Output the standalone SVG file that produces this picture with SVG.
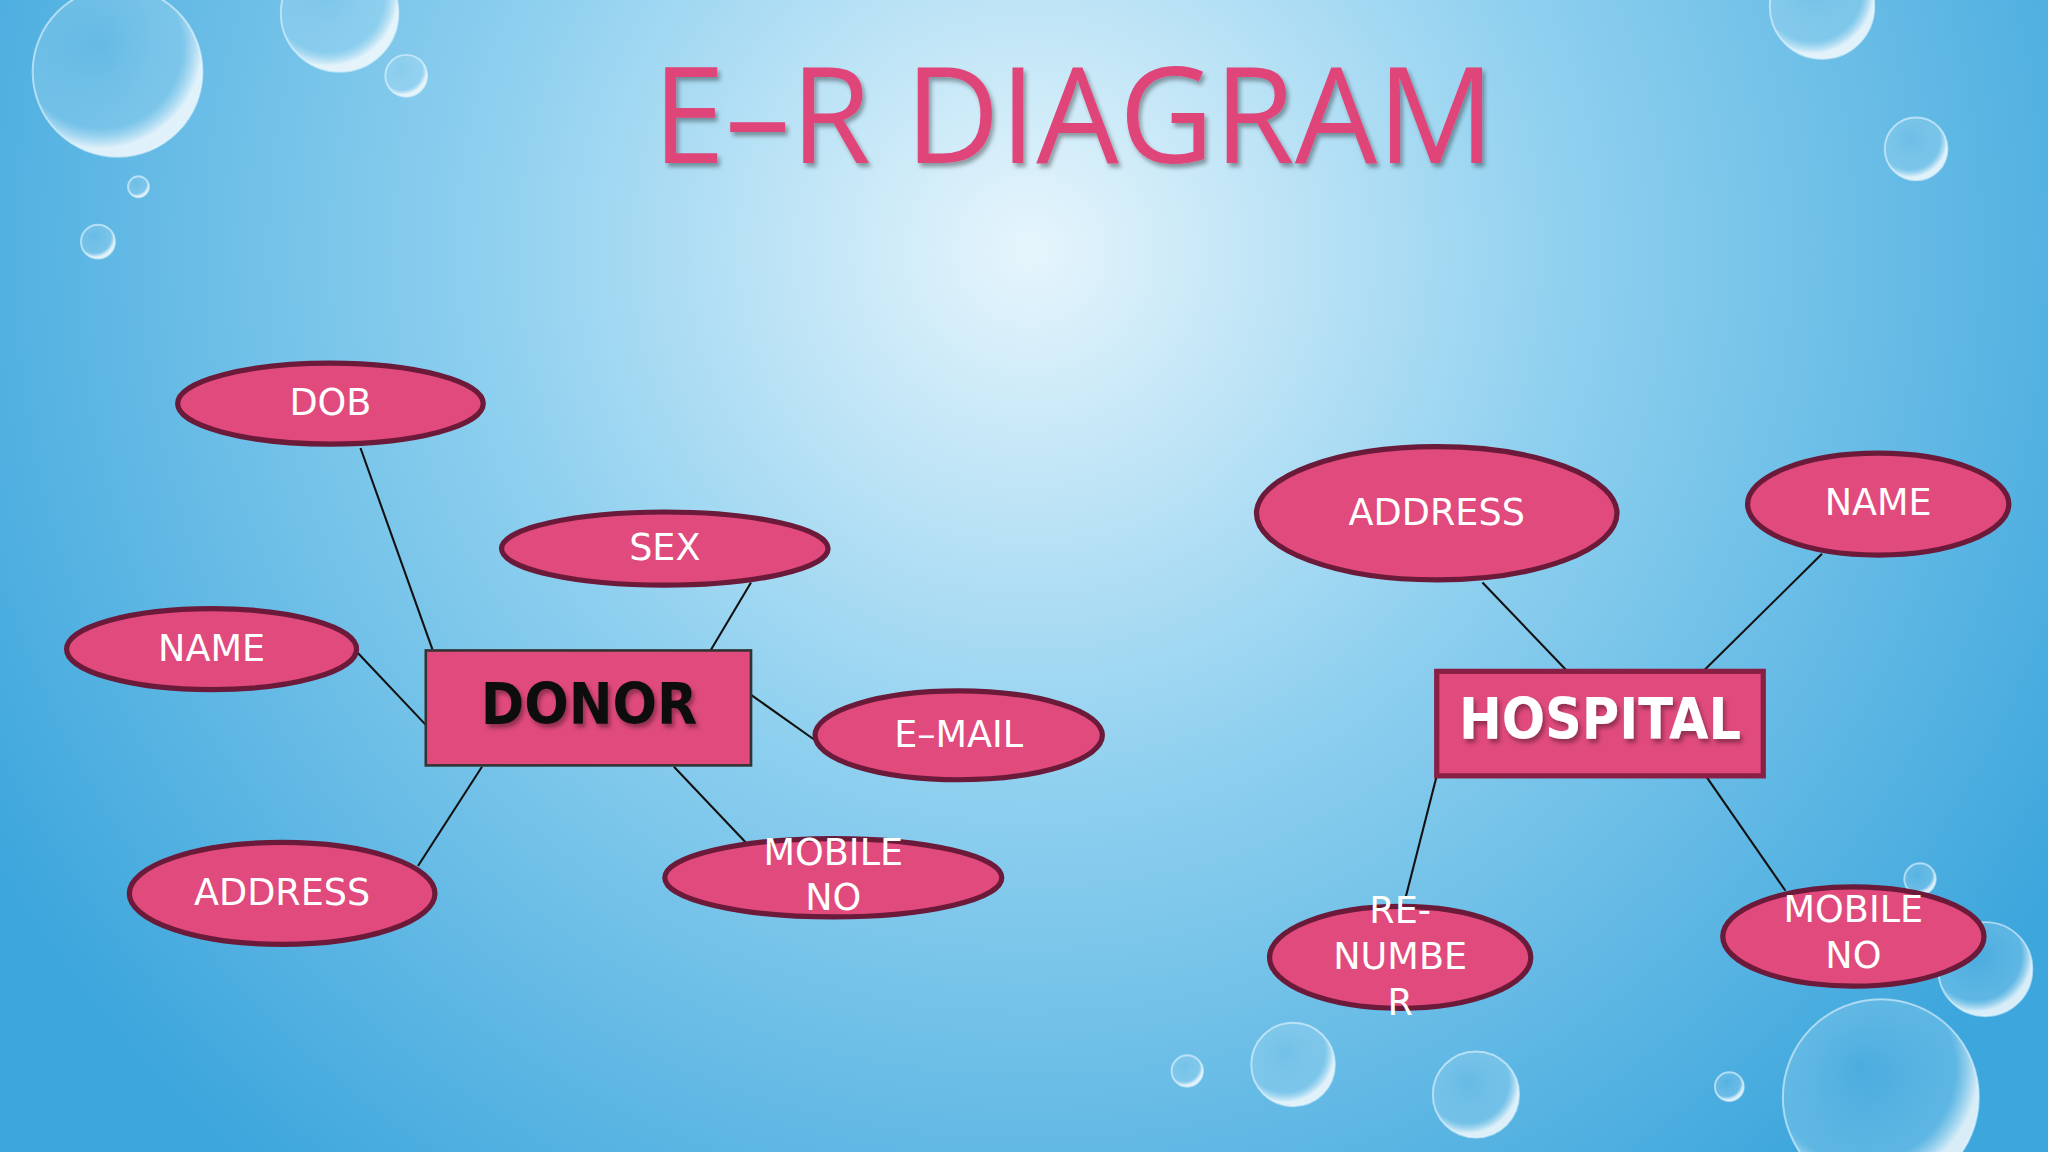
<svg xmlns="http://www.w3.org/2000/svg" width="2048" height="1152" viewBox="0 0 2048 1152">
<defs>
<radialGradient id="bg" cx="1030" cy="250" r="1200" gradientUnits="userSpaceOnUse">
<stop offset="0" stop-color="#e6f5fc"/><stop offset="0.45" stop-color="#8fd0ef"/><stop offset="1" stop-color="#3da6dc"/>
</radialGradient>
<radialGradient id="bub" cx="0.4" cy="0.35" r="0.6">
<stop offset="0" stop-color="#ffffff" stop-opacity="0.05"/><stop offset="0.8" stop-color="#bfe6f8" stop-opacity="0.25"/><stop offset="1" stop-color="#ffffff" stop-opacity="0.8"/>
</radialGradient>
<filter id="sh"><feDropShadow dx="2" dy="3" stdDeviation="1.5" flood-color="#000" flood-opacity="0.35"/></filter>
<style>
.e{fill:#e04a7c;stroke:#6b1a3a;stroke-width:4}
.r{fill:#e04a7c;stroke:#333;stroke-width:2}
.rh{fill:#e04a7c;stroke:#8a1f45;stroke-width:4}
.t{font-family:"DejaVu Sans",sans-serif;font-size:28px;fill:#fff;text-anchor:middle}
.l{stroke:#111;stroke-width:1.6;fill:none}
.b{fill:url(#bub);stroke:#e8f7ff;stroke-opacity:0.6;stroke-width:1.5}
</style>
</defs>
<rect width="2048" height="1152" fill="url(#bg)"/>
<g transform="scale(1.30612)">
<g id="bubbles">
<circle class="b" cx="90" cy="55" r="65"/><circle class="b" cx="260" cy="10" r="45"/><circle class="b" cx="311" cy="58" r="16"/>
<circle class="b" cx="106" cy="143" r="8"/><circle class="b" cx="75" cy="185" r="13"/><circle class="b" cx="1395" cy="5" r="40"/>
<circle class="b" cx="1467" cy="114" r="24"/><circle class="b" cx="990" cy="815" r="32"/><circle class="b" cx="1130" cy="838" r="33"/>
<circle class="b" cx="909" cy="820" r="12"/><circle class="b" cx="1324" cy="832" r="11"/><circle class="b" cx="1440" cy="840" r="75"/>
<circle class="b" cx="1520" cy="742" r="36"/><circle class="b" cx="1470" cy="673" r="12"/>
</g>
<text x="822" y="125" font-family="'Open Sans','DejaVu Sans',sans-serif" font-weight="500" font-size="102" fill="#e0457a" text-anchor="middle" textLength="645" lengthAdjust="spacingAndGlyphs" filter="url(#sh)">E–R DIAGRAM</text>
<g id="connectors">
<line class="l" x1="276" y1="343" x2="331" y2="497"/><line class="l" x1="575" y1="446" x2="544" y2="498"/>
<line class="l" x1="274" y1="500" x2="326" y2="555"/><line class="l" x1="575" y1="532" x2="623" y2="566"/>
<line class="l" x1="320" y1="663" x2="369" y2="587"/><line class="l" x1="516" y1="587" x2="571" y2="645"/>
<line class="l" x1="1135" y1="446" x2="1200" y2="514"/><line class="l" x1="1395" y1="424" x2="1304" y2="514"/>
<line class="l" x1="1100" y1="594" x2="1076" y2="688"/><line class="l" x1="1306" y1="594" x2="1367" y2="682"/>
</g>
<g id="donor"><rect class="r" x="326" y="498" width="249" height="88"/><text x="451" y="554" font-family="'DejaVu Sans',sans-serif" font-weight="600" font-size="44" fill="#111" text-anchor="middle" textLength="166" lengthAdjust="spacingAndGlyphs" filter="url(#sh)">DONOR</text></g>
<g id="d-dob"><ellipse class="e" cx="253" cy="309" rx="117" ry="31"/><text class="t" x="253" y="318">DOB</text></g>
<g id="d-sex"><ellipse class="e" cx="509" cy="420" rx="125" ry="28"/><text class="t" x="509" y="429">SEX</text></g>
<g id="d-name"><ellipse class="e" cx="162" cy="497" rx="111" ry="31"/><text class="t" x="162" y="506">NAME</text></g>
<g id="d-email"><ellipse class="e" cx="734" cy="563" rx="110" ry="34"/><text class="t" x="734" y="572">E–MAIL</text></g>
<g id="d-address"><ellipse class="e" cx="216" cy="684" rx="117" ry="39"/><text class="t" x="216" y="693">ADDRESS</text></g>
<g id="d-mobile"><ellipse class="e" cx="638" cy="672" rx="129" ry="30"/><text class="t" x="638" y="662">MOBILE</text><text class="t" x="638" y="697">NO</text></g>
<g id="hospital"><rect class="rh" x="1100" y="514" width="250" height="80"/><text x="1225" y="566" font-family="'DejaVu Sans',sans-serif" font-weight="600" font-size="44" fill="#fff" text-anchor="middle" textLength="216" lengthAdjust="spacingAndGlyphs" filter="url(#sh)">HOSPITAL</text></g>
<g id="h-address"><ellipse class="e" cx="1100" cy="393" rx="138" ry="51"/><text class="t" x="1100" y="402">ADDRESS</text></g>
<g id="h-name"><ellipse class="e" cx="1438" cy="386" rx="100" ry="39"/><text class="t" x="1438" y="394">NAME</text></g>
<g id="h-renumber"><ellipse class="e" cx="1072" cy="733" rx="100" ry="39"/><text class="t" x="1072" y="707">RE-</text><text class="t" x="1072" y="742">NUMBE</text><text class="t" x="1072" y="777">R</text></g>
<g id="h-mobile"><ellipse class="e" cx="1419" cy="717" rx="100" ry="38"/><text class="t" x="1419" y="706">MOBILE</text><text class="t" x="1419" y="741">NO</text></g>
</g>
</svg>
